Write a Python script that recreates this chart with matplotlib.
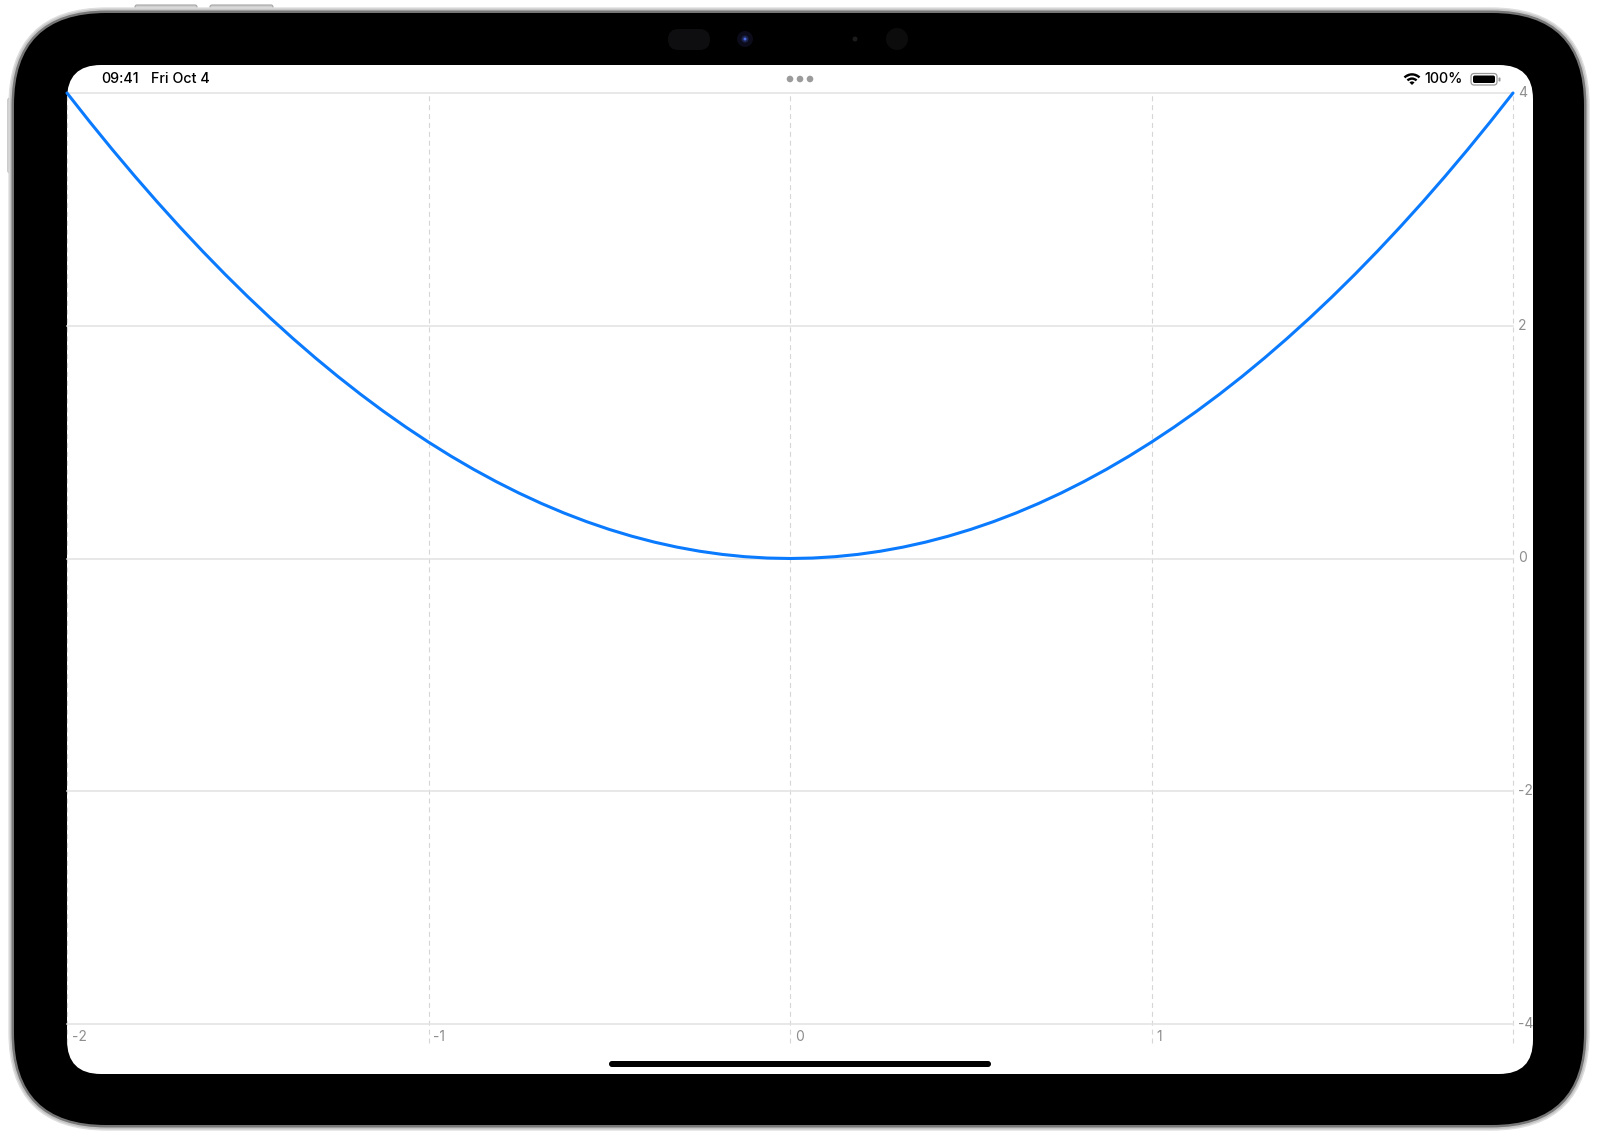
import matplotlib
matplotlib.use("Agg")
import matplotlib.pyplot as plt
import matplotlib.transforms as mtransforms
from matplotlib.patches import FancyBboxPatch, Circle, Wedge
import numpy as np

x_vals = [-2.0, -1.9375, -1.875, -1.8125, -1.75, -1.6875, -1.625, -1.5625,
          -1.5, -1.4375, -1.375, -1.3125, -1.25, -1.1875, -1.125, -1.0625,
          -1.0, -0.9375, -0.875, -0.8125, -0.75, -0.6875, -0.625, -0.5625,
          -0.5, -0.4375, -0.375, -0.3125, -0.25, -0.1875, -0.125, -0.0625,
          0.0,
          0.0625, 0.125, 0.1875, 0.25, 0.3125, 0.375, 0.4375, 0.5,
          0.5625, 0.625, 0.6875, 0.75, 0.8125, 0.875, 0.9375, 1.0,
          1.0625, 1.125, 1.1875, 1.25, 1.3125, 1.375, 1.4375, 1.5,
          1.5625, 1.625, 1.6875, 1.75, 1.8125, 1.875, 1.9375, 2.0]
y_vals = [4.0, 3.7539, 3.5156, 3.2852, 3.0625, 2.8477, 2.6406, 2.4414,
          2.25, 2.0664, 1.8906, 1.7227, 1.5625, 1.4102, 1.2656, 1.1289,
          1.0, 0.8789, 0.7656, 0.6602, 0.5625, 0.4727, 0.3906, 0.3164,
          0.25, 0.1914, 0.1406, 0.0977, 0.0625, 0.0352, 0.0156, 0.0039,
          0.0,
          0.0039, 0.0156, 0.0352, 0.0625, 0.0977, 0.1406, 0.1914, 0.25,
          0.3164, 0.3906, 0.4727, 0.5625, 0.6602, 0.7656, 0.8789, 1.0,
          1.1289, 1.2656, 1.4102, 1.5625, 1.7227, 1.8906, 2.0664, 2.25,
          2.4414, 2.6406, 2.8477, 3.0625, 3.2852, 3.5156, 3.7539, 4.0]
x_ticks = [-2, -1, 0, 1, 2]
x_labels = ['-2', '-1', '0', '1', '']
y_ticks = [-4, -2, 0, 2, 4]
y_labels = ['-4', '-2', '0', '2', '4']

status_time = '09:41'
status_date = 'Fri Oct 4'
battery_text = '100%'

W, H = 1600, 1140
fig = plt.figure(figsize=(W / 100, H / 100), dpi=100)
fig.patch.set_facecolor('white')

# device frame, in pixel coords
bg = fig.add_axes([0, 0, 1, 1])
bg.set_xlim(0, W)
bg.set_ylim(H, 0)
bg.axis('off')


def rrect(x0, y0, x1, y1, r, **kw):
    p = FancyBboxPatch((x0 + r, y0 + r), (x1 - x0) - 2 * r, (y1 - y0) - 2 * r,
                       boxstyle='round,pad=%g' % r, **kw)
    bg.add_patch(p)
    return p


# buttons
rrect(135, 5, 197, 12, 2, fc='#cfcfcf', ec='#a5a5a5', lw=0.8, zorder=1)
rrect(210, 5, 273, 12, 2, fc='#cfcfcf', ec='#a5a5a5', lw=0.8, zorder=1)
rrect(8, 98, 14, 173, 2, fc='#cfcfcf', ec='#a5a5a5', lw=0.8, zorder=1)

# body
rrect(9, 8, 1589, 1130, 98, fc='#c6c6c6', ec='#dedede', lw=1, zorder=2)
rrect(11.5, 10.5, 1586.5, 1127.5, 95, fc='#777777', ec='none', zorder=3)
rrect(14, 13, 1584, 1125, 92, fc='black', ec='none', zorder=4)

# screen
rrect(67, 65, 1533, 1074, 34, fc='white', ec='none', zorder=5)

# sensors in the top bezel
rrect(668, 29, 710, 50, 10.5, fc='#0e0e10', ec='none', zorder=6)
bg.add_patch(Circle((745, 39), 8, fc='#0b0b1a', ec='none', zorder=6))
bg.add_patch(Circle((745, 39), 3.5, fc='#1c2450', ec='none', zorder=7))
bg.add_patch(Circle((745, 39), 1.5, fc='#4a6ae0', ec='none', zorder=8))
bg.add_patch(Circle((855, 39), 2.5, fc='#1c1c1c', ec='none', zorder=6))
bg.add_patch(Circle((897, 39), 11, fc='#0c0c0c', ec='none', zorder=6))

# status bar
sfont = dict(family=['Inter', 'DejaVu Sans'], fontsize=10.3, color='black',
             va='center', ha='left', zorder=9, fontweight='medium')
bg.text(101, 79, status_time, **sfont)
bg.text(151, 79, status_date, **sfont)
bg.text(1424, 79, battery_text, **sfont)
for cx in (790, 800, 810):
    bg.add_patch(Circle((cx, 79), 3.3, fc='#9b9b9b', ec='none', zorder=9))

# wifi
wc = (1412, 85)
bg.add_patch(Wedge(wc, 3.6, 225, 315, fc='black', ec='none', zorder=9))
bg.add_patch(Wedge(wc, 7.6, 225, 315, width=2.4, fc='black', ec='none', zorder=9))
bg.add_patch(Wedge(wc, 11.8, 225, 315, width=2.4, fc='black', ec='none', zorder=9))

# battery
rrect(1471, 73.5, 1497, 85, 3.2, fc='white', ec='#9a9a9a', lw=0.9, zorder=9)
rrect(1473, 75.5, 1495, 83, 1.8, fc='black', ec='none', zorder=10)
rrect(1498.5, 77.5, 1500.5, 81.5, 0.8, fc='#9a9a9a', ec='none', zorder=10)

# home indicator
rrect(609, 1061, 991, 1067, 3, fc='black', ec='none', zorder=9)

# chart area
px_l, px_r, px_t, px_b = 67, 1513, 93, 1024
ax = fig.add_axes([px_l / W, 1 - px_b / H, (px_r - px_l) / W, (px_b - px_t) / H])
ax.patch.set_visible(False)
ax.set_zorder(5)
ax.set_xlim(-2, 2)
ax.set_ylim(-4, 4)
for s in ax.spines.values():
    s.set_visible(False)
ax.set_xticks([])
ax.set_yticks([])

ext = 19.0 / (px_b - px_t)
for xt in x_ticks:
    ax.axvline(xt, ymin=-ext, ymax=1, color='#d6d6d6', lw=0.8,
               linestyle=(0, (4.5, 3.5)), clip_on=False, zorder=1)
for yt in y_ticks:
    ax.axhline(yt, color='#e2e2e2', lw=1.1, clip_on=False, zorder=2)

ax.plot(x_vals, y_vals, color='#0a7aff', lw=2.2, solid_capstyle='round',
        solid_joinstyle='round', clip_on=False, zorder=3)

lfont = dict(family=['Inter', 'DejaVu Sans'], fontsize=10, color='#8e8e8e',
             va='center', ha='left')
xoff = mtransforms.offset_copy(ax.transData, fig=fig, x=5, y=-13, units='dots')
for xt, lab in zip(x_ticks, x_labels):
    ax.text(xt, -4, lab, transform=xoff, **lfont)
yoff = mtransforms.offset_copy(ax.transData, fig=fig, x=5, y=0, units='dots')
for yt, lab in zip(y_ticks, y_labels):
    ax.text(2, yt, lab, transform=yoff, **lfont)

fig.savefig('out.png', dpi=100)
